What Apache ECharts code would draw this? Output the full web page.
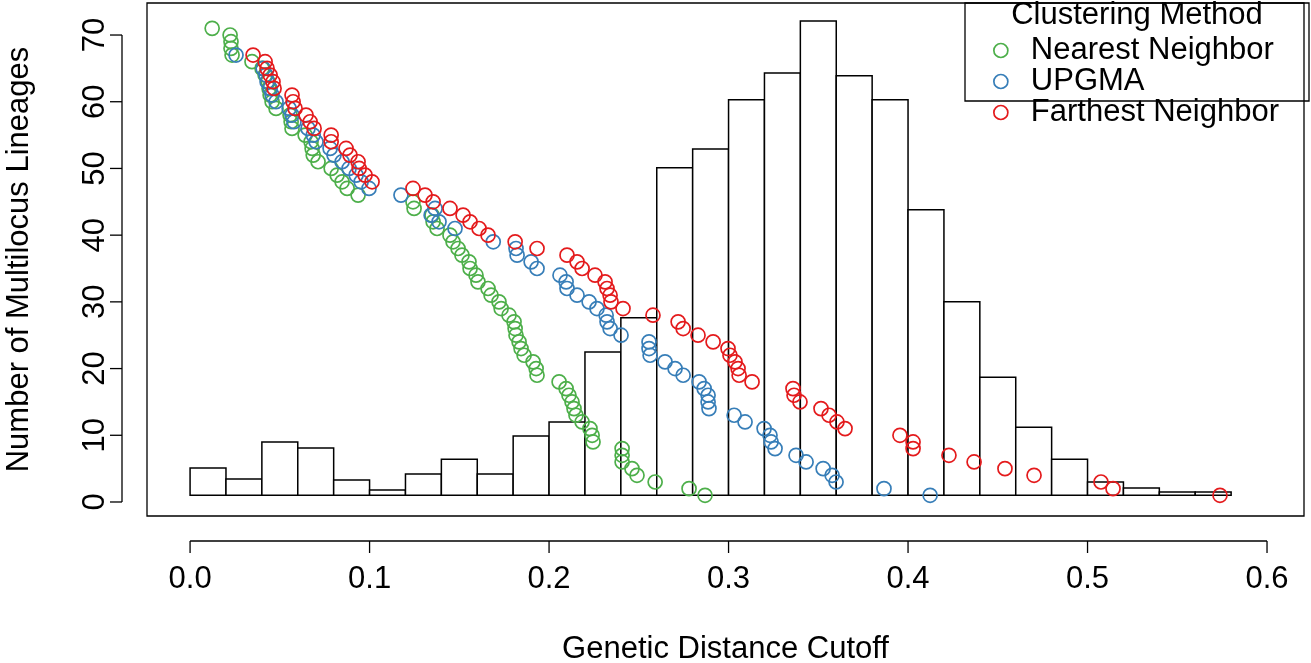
<!DOCTYPE html>
<html><head><meta charset="utf-8">
<script src="https://cdn.jsdelivr.net/npm/echarts@6/dist/echarts.min.js"></script>
<style>html,body{margin:0;padding:0;background:#fff}#c{width:1311px;height:663px}</style>
</head><body><div id="c"></div>
<script>
const binStarts = [0,0.02,0.04,0.06,0.08,0.10,0.12,0.14,0.16,0.18,0.20,0.22,0.24,0.26,0.28,0.30,0.32,0.34,0.36,0.38,0.40,0.42,0.44,0.46,0.48,0.50,0.52,0.54,0.56];
const binHeights = [5.1,3.45,9.0,8.1,3.3,1.8,4.2,6.4,4.2,9.9,12,22.5,27.6,50.1,52.9,60.3,64.3,72.1,63.9,60.3,43.8,30.0,18.7,11.2,6.4,3.0,2.1,1.5,1.5];
const binBase = 1;
const binWidth = 0.02;
const xTicks = [0,0.1,0.2,0.3,0.4,0.5,0.6];
const yTicks = [0,10,20,30,40,50,60,70];
const nnLineages = [71,70,69,68,67,66,65,64,63,62,61,60,59,58,57,56,55,54,53,52,51,50,49,48,47,46,45,44,43,42,41,40,39,38,37,36,35,34,33,32,31,30,29,28,27,26,25,24,23,22,21,20,19,18,17,16,15,14,13,12,11,10,9,8,7,6,5,4,3,2,1];
const nnCutoff = [0.0123,0.0223,0.0228,0.0228,0.0234,0.0345,0.0401,0.0418,0.0435,0.0440,0.0446,0.0457,0.0479,0.0557,0.0563,0.0568,0.0641,0.0674,0.0680,0.0686,0.0713,0.0786,0.0819,0.0847,0.0875,0.0936,0.1242,0.1248,0.1348,0.1354,0.1376,0.1448,0.1465,0.1493,0.1515,0.1554,0.1560,0.1593,0.1604,0.1660,0.1677,0.1721,0.1733,0.1777,0.1805,0.1811,0.1816,0.1833,0.1844,0.1861,0.1911,0.1928,0.1933,0.2056,0.2095,0.2111,0.2128,0.2139,0.2150,0.2184,0.2228,0.2240,0.2245,0.2407,0.2407,0.2407,0.2462,0.2490,0.2591,0.2780,0.2869];
const upLineages = [67,65,64,63,62,61,60,59,58,57,56,55,54,53,52,51,50,49,48,47,46,44,43,42,41,39,38,37,36,35,34,33,32,31,30,29,28,27,26,25,24,23,22,21,20,19,18,17,16,15,14,13,12,11,10,9,8,7,6,5,4,3,2,1];
const upCutoff = [0.0256,0.0407,0.0423,0.0429,0.0446,0.0457,0.0479,0.0552,0.0568,0.0579,0.0657,0.0686,0.0702,0.0780,0.0802,0.0847,0.0886,0.0925,0.0953,0.0997,0.1175,0.1365,0.1343,0.1387,0.1476,0.1689,0.1816,0.1822,0.1900,0.1933,0.2061,0.2095,0.2100,0.2156,0.2223,0.2267,0.2318,0.2323,0.2340,0.2401,0.2557,0.2557,0.2563,0.2646,0.2702,0.2747,0.2836,0.2864,0.2886,0.2886,0.2891,0.3031,0.3092,0.3198,0.3231,0.3237,0.3259,0.3376,0.3432,0.3527,0.3577,0.3599,0.3866,0.4123];
const fnLineages = [67,66,65,64,63,62,61,60,59,58,57,56,55,54,53,52,51,50,49,48,47,46,45,44,43,42,41,40,39,38,37,36,35,34,33,32,31,30,29,28,27,26,25,24,23,22,21,20,19,18,17,16,15,14,13,12,11,10,9,8,7,6,5,4,3,2,1];
const fnCutoff = [0.0351,0.0418,0.0429,0.0446,0.0462,0.0468,0.0568,0.0574,0.0585,0.0646,0.0669,0.0691,0.0786,0.0786,0.0869,0.0891,0.0936,0.0942,0.0975,0.1014,0.1242,0.1309,0.1354,0.1448,0.1521,0.1560,0.1610,0.1660,0.1811,0.1933,0.2100,0.2156,0.2184,0.2256,0.2312,0.2323,0.2340,0.2345,0.2412,0.2579,0.2719,0.2747,0.2830,0.2914,0.2997,0.3008,0.3036,0.3053,0.3059,0.3131,0.3359,0.3365,0.3398,0.3515,0.3560,0.3604,0.3649,0.3955,0.4028,0.4028,0.4228,0.4368,0.4540,0.4702,0.5075,0.5142,0.5738];
const seriesNames = ['Nearest Neighbor','UPGMA','Farthest Neighbor'];
const colors = ['#4DAF4A','#377EB8','#E41A1C'];

const chart = echarts.init(document.getElementById('c'));
const font = 'Liberation Sans, Arial, sans-serif';
const FS = 31;
const zip = (xs, ys) => xs.map((x,i)=>[x, ys[i]]);
const pts = [zip(nnCutoff,nnLineages), zip(upCutoff,upLineages), zip(fnCutoff,fnLineages)];
const scatter = (i) => ({
  name: seriesNames[i], type:'scatter', data: pts[i], symbol:'circle', symbolSize:14,
  itemStyle:{color:'transparent', borderColor:colors[i], borderWidth:1.7, opacity:1}, z:5
});
chart.setOption({
  animation:false,
  grid:{left:147,right:7,top:3,bottom:147,outerBoundsMode:'none',containLabel:false,show:true,borderColor:'#000',borderWidth:1.3,backgroundColor:'transparent'},
  xAxis:{type:'value',min:-0.024,max:0.6206,splitLine:{show:false},axisLine:{show:false},axisTick:{show:false},
    axisLabel:{customValues:xTicks,formatter:v=>v.toFixed(1),fontSize:FS,color:'#000',fontFamily:font,margin:48},
    name:'Genetic Distance Cutoff',nameLocation:'middle',nameGap:118,nameTextStyle:{fontSize:FS,color:'#000',fontFamily:font}},
  yAxis:{type:'value',min:-2.1,max:74.8,splitLine:{show:false},axisLine:{show:false},axisTick:{show:false},
    axisLabel:{customValues:yTicks,rotate:90,fontSize:FS,color:'#000',fontFamily:font,margin:36},
    name:'Number of Multilocus Lineages',nameLocation:'middle',nameGap:112,nameTextStyle:{fontSize:FS,color:'#000',fontFamily:font}},
  legend:{orient:'vertical',left:988,top:30,itemGap:0,itemWidth:14,itemHeight:14,
    data:seriesNames.map((n,i)=>({name:n,icon:'circle',itemStyle:{color:'transparent',borderColor:colors[i],borderWidth:1.7}})),
    textStyle:{fontSize:FS,color:'#000',fontFamily:font,lineHeight:20,padding:[0,0,0,18]}},
  series:[
    {type:'custom',z:2,data:binStarts.map((s,i)=>[s,binHeights[i]]),
      renderItem:(params,api)=>{
        const x0=api.value(0), h=api.value(1);
        const p0=api.coord([x0,binBase]), p1=api.coord([x0+binWidth,h]);
        return {type:'rect',shape:{x:p0[0],y:p1[1],width:p1[0]-p0[0],height:p0[1]-p1[1]},
          style:{fill:'#fff',stroke:'#000',lineWidth:1.5}};
      }},
    scatter(0),scatter(1),scatter(2)
  ]
});
const gx = v => chart.convertToPixel({xAxisIndex:0},v);
const gy = v => chart.convertToPixel({yAxisIndex:0},v);
const st = {stroke:'#000',lineWidth:1.3};
const g = [
  {type:'line',shape:{x1:gx(0),y1:541,x2:gx(0.6),y2:541},style:st},
  {type:'line',shape:{x1:122,y1:gy(0),x2:122,y2:gy(70)},style:st},
  {type:'rect',shape:{x:965,y:3,width:344,height:98},style:{fill:'rgba(0,0,0,0)',stroke:'#000',lineWidth:1.3},z:10},
  {type:'text',x:1137,y:0,style:{text:'Clustering Method',fontSize:FS,fontFamily:font,fill:'#000',textAlign:'center'},z:10}
];
xTicks.forEach(v=>g.push({type:'line',shape:{x1:gx(v),y1:541,x2:gx(v),y2:553},style:st}));
yTicks.forEach(v=>g.push({type:'line',shape:{x1:122,y1:gy(v),x2:110,y2:gy(v)},style:st}));
chart.setOption({graphic:g});
</script></body></html>
